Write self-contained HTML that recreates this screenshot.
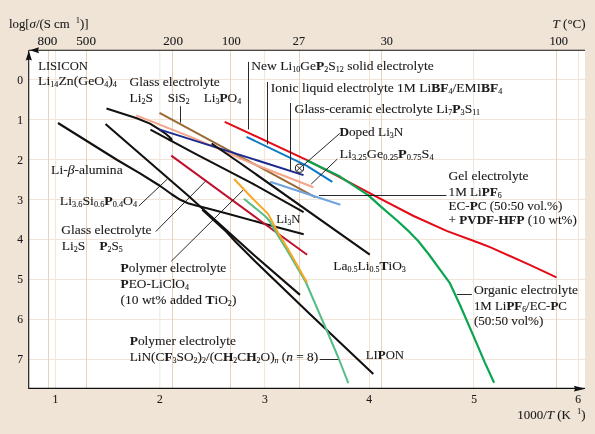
<!DOCTYPE html>
<html lang="en"><head><meta charset="utf-8"><title>Ionic conductivity of lithium electrolytes</title>
<style>html,body{margin:0;padding:0;background:#f0e4d7}svg{display:block}text{font-family:"Liberation Serif",serif;font-size:13px;fill:#1a1a1a;stroke:#1a1a1a;stroke-width:0.1px}.n{font-size:13.5px}.s{font-size:7.8px}.i{font-style:italic}.b{font-weight:bold}</style>
</head><body>
<svg width="595" height="434" viewBox="0 0 595 434">
<rect x="0" y="0" width="595" height="434" fill="#f0e4d7"/>
<rect x="28.7" y="50.3" width="556.3" height="338.1" fill="#fff"/>
<g stroke="#f2e5d8" stroke-width="1" fill="none">
<line x1="55.5" y1="50.3" x2="55.5" y2="388.4"/>
<line x1="159.8" y1="50.3" x2="159.8" y2="388.4"/>
<line x1="264.6" y1="50.3" x2="264.6" y2="388.4"/>
<line x1="369.5" y1="50.3" x2="369.5" y2="388.4"/>
<line x1="473.6" y1="50.3" x2="473.6" y2="388.4"/>
<line x1="578.5" y1="50.3" x2="578.5" y2="388.4"/>
<line x1="28.7" y1="79.5" x2="585.0" y2="79.5"/>
<line x1="28.7" y1="119.5" x2="585.0" y2="119.5"/>
<line x1="28.7" y1="159.5" x2="585.0" y2="159.5"/>
<line x1="28.7" y1="199.5" x2="585.0" y2="199.5"/>
<line x1="28.7" y1="239.5" x2="585.0" y2="239.5"/>
<line x1="28.7" y1="279.5" x2="585.0" y2="279.5"/>
<line x1="28.7" y1="319.5" x2="585.0" y2="319.5"/>
<line x1="28.7" y1="359.5" x2="585.0" y2="359.5"/>
</g>
<g stroke="#e7d2bc" stroke-width="1" fill="none">
<line x1="48.5" y1="50.3" x2="48.5" y2="388.4"/>
<line x1="86.5" y1="50.3" x2="86.5" y2="388.4"/>
<line x1="172.5" y1="50.3" x2="172.5" y2="388.4"/>
<line x1="230.5" y1="50.3" x2="230.5" y2="388.4"/>
<line x1="299.5" y1="50.3" x2="299.5" y2="388.4"/>
<line x1="381.5" y1="50.3" x2="381.5" y2="388.4"/>
<line x1="556.5" y1="50.3" x2="556.5" y2="388.4"/>
</g>
<polyline points="106.5,108.6 136.8,118.3 150.0,123.6 160.0,129.8 166.0,134.0 170.8,138.3 171.6,139.8 170.4,140.4 168.6,139.2" fill="none" stroke="#111" stroke-width="2.10" stroke-linejoin="round" />
<polyline points="150.4,129.6 195.0,153.7 251.7,183.1 303.6,212.2" fill="none" stroke="#111" stroke-width="2.10" stroke-linejoin="round" />
<polyline points="58.0,123.0 117.2,160.0 140.0,173.4 160.2,186.0 172.0,194.5 180.3,199.8 188.0,203.3 196.0,205.6 206.0,208.0 225.0,213.1 265.0,223.9 303.7,234.3" fill="none" stroke="#111" stroke-width="2.10" stroke-linejoin="round" />
<polyline points="105.5,124.0 187.7,195.3 255.0,256.0 300.0,294.9" fill="none" stroke="#111" stroke-width="2.10" stroke-linejoin="round" />
<polyline points="202.3,209.8 226.6,232.0 236.0,242.2 255.0,261.2 308.8,312.9 373.3,374.0" fill="none" stroke="#111" stroke-width="2.10" stroke-linejoin="round" />
<polyline points="159.5,112.8 315.6,197.3" fill="none" stroke="#9a6a35" stroke-width="2.00" stroke-linejoin="round" />
<polyline points="136.2,115.4 195.0,138.6 250.0,162.6 313.4,187.3" fill="none" stroke="#f4a58a" stroke-width="2.00" stroke-linejoin="round" />
<polyline points="270.2,181.8 340.4,204.8" fill="none" stroke="#6fa3dd" stroke-width="2.00" stroke-linejoin="round" />
<polyline points="159.2,129.4 303.5,175.1" fill="none" stroke="#1b2a8c" stroke-width="2.00" stroke-linejoin="round" />
<polyline points="211.6,143.5 240.0,163.0 369.8,254.7" fill="none" stroke="#111" stroke-width="2.10" stroke-linejoin="round" />
<polyline points="171.3,155.6 260.0,220.5 307.1,254.7" fill="none" stroke="#c0102f" stroke-width="2.00" stroke-linejoin="round" />
<polyline points="243.9,198.7 256.8,209.3 265.0,216.0 269.5,221.0 277.3,234.5 286.3,249.0 306.0,282.5 317.0,308.0 327.0,331.0 338.5,358.0 348.3,383.2" fill="none" stroke="#55bd85" stroke-width="2.00" stroke-linejoin="round" />
<polyline points="234.1,179.0 250.7,196.5 268.1,213.9 278.5,233.5 287.4,248.0 307.1,282.7" fill="none" stroke="#f7a823" stroke-width="2.00" stroke-linejoin="round" />
<polyline points="246.5,136.9 306.5,165.7 332.3,181.8" fill="none" stroke="#0b78c6" stroke-width="2.00" stroke-linejoin="round" />
<polyline points="224.7,121.9 306.5,159.8 340.0,177.4 376.3,196.6 413.6,216.0 447.2,231.1 480.0,243.2 490.0,247.1 530.3,265.2 556.5,277.3" fill="none" stroke="#e60a16" stroke-width="2.00" stroke-linejoin="round" />
<polyline points="306.5,160.2 340.0,176.6 368.2,195.1 380.0,205.9 397.6,221.0 408.0,230.6 418.2,241.0 429.3,255.0 440.0,269.7 449.9,283.2 460.0,305.0 473.1,335.1 485.1,363.1 494.1,382.8" fill="none" stroke="#0aa551" stroke-width="2.20" stroke-linejoin="round" />
<polyline points="180.5,106.2 180.5,122.7" fill="none" stroke="#111" stroke-width="0.90" stroke-linejoin="round" />
<polyline points="248.5,61.9 248.5,129.4" fill="none" stroke="#111" stroke-width="0.90" stroke-linejoin="round" />
<polyline points="267.5,82.0 267.5,144.5" fill="none" stroke="#111" stroke-width="0.90" stroke-linejoin="round" />
<polyline points="290.5,103.0 290.5,170.6" fill="none" stroke="#111" stroke-width="0.90" stroke-linejoin="round" />
<polyline points="339.8,133.4 302.5,166.0" fill="none" stroke="#111" stroke-width="0.90" stroke-linejoin="round" />
<polyline points="337.3,159.0 311.2,184.1" fill="none" stroke="#111" stroke-width="0.90" stroke-linejoin="round" />
<polyline points="319.0,195.5 446.5,195.5" fill="none" stroke="#111" stroke-width="0.90" stroke-linejoin="round" />
<polyline points="138.8,206.0 167.2,179.2" fill="none" stroke="#111" stroke-width="0.90" stroke-linejoin="round" />
<polyline points="155.7,231.6 205.5,181.2" fill="none" stroke="#111" stroke-width="0.90" stroke-linejoin="round" />
<polyline points="171.3,261.2 243.0,190.2" fill="none" stroke="#111" stroke-width="0.90" stroke-linejoin="round" />
<polyline points="456.9,294.5 471.8,294.5" fill="none" stroke="#111" stroke-width="0.90" stroke-linejoin="round" />
<polyline points="319.8,359.5 338.2,359.5" fill="none" stroke="#111" stroke-width="0.90" stroke-linejoin="round" />
<circle cx="299.5" cy="168.2" r="4.1" fill="#fff" stroke="#111" stroke-width="1"/>
<path d="M296.7,165.4L302.3,171M302.3,165.4L296.7,171" stroke="#111" stroke-width="0.9" fill="none"/>
<path d="M28.7,50.3 L28.7,388.4 L585.0,388.4" fill="none" stroke="#111" stroke-width="1.1"/>
<path d="M28.7,50.3 L585.0,50.3" fill="none" stroke="#111" stroke-width="1.1"/>
<path d="M585.3,388.7 L574,385.8 L575,388.7 L574,391.6Z" fill="#111"/>
<path d="M29.8,50.2 L39,47.2 L38,50.2 L39,53.2Z" fill="#111"/>
<path d="M28.8,50.8 L25.7,60.6 L28.8,59.6 L31.9,60.6Z" fill="#111"/>
<text x="9.0" y="27.6" textLength="79.5" lengthAdjust="spacingAndGlyphs">log[<tspan class="i">&#963;</tspan>/(S cm&#160;&#160;<tspan class="s" dy="-5">1</tspan><tspan dy="5">)]</tspan></text>
<text x="552.6" y="27.6" textLength="33.0" lengthAdjust="spacingAndGlyphs"><tspan class="i">T</tspan> (&#176;C)</text>
<text x="517.3" y="418.6" textLength="68.2" lengthAdjust="spacingAndGlyphs">1000/<tspan class="i">T</tspan> (K&#160;&#160;<tspan class="s" dy="-5">1</tspan><tspan dy="5">)</tspan></text>
<text x="37.6" y="44.9" textLength="19.7" lengthAdjust="spacingAndGlyphs" class="n">800</text>
<text x="76.3" y="44.9" textLength="19.7" lengthAdjust="spacingAndGlyphs" class="n">500</text>
<text x="163.3" y="44.9" textLength="19.7" lengthAdjust="spacingAndGlyphs" class="n">200</text>
<text x="222.0" y="44.9" textLength="18.6" lengthAdjust="spacingAndGlyphs" class="n">100</text>
<text x="292.8" y="44.9" textLength="12.2" lengthAdjust="spacingAndGlyphs" class="n">27</text>
<text x="380.7" y="44.9" textLength="12.2" lengthAdjust="spacingAndGlyphs" class="n">30</text>
<text x="549.4" y="44.9" textLength="18.6" lengthAdjust="spacingAndGlyphs" class="n">100</text>
<text x="52.5" y="402.8" textLength="5.8" lengthAdjust="spacingAndGlyphs" class="n">1</text>
<text x="157.0" y="402.8" textLength="5.8" lengthAdjust="spacingAndGlyphs" class="n">2</text>
<text x="261.9" y="402.8" textLength="5.8" lengthAdjust="spacingAndGlyphs" class="n">3</text>
<text x="366.2" y="402.8" textLength="5.8" lengthAdjust="spacingAndGlyphs" class="n">4</text>
<text x="471.3" y="402.8" textLength="5.8" lengthAdjust="spacingAndGlyphs" class="n">5</text>
<text x="575.3" y="402.8" textLength="5.8" lengthAdjust="spacingAndGlyphs" class="n">6</text>
<text x="17.2" y="83.9" textLength="5.8" lengthAdjust="spacingAndGlyphs" class="n">0</text>
<text x="17.2" y="123.8" textLength="5.8" lengthAdjust="spacingAndGlyphs" class="n">1</text>
<text x="17.2" y="163.6" textLength="5.8" lengthAdjust="spacingAndGlyphs" class="n">2</text>
<text x="17.2" y="203.5" textLength="5.8" lengthAdjust="spacingAndGlyphs" class="n">3</text>
<text x="17.2" y="243.3" textLength="5.8" lengthAdjust="spacingAndGlyphs" class="n">4</text>
<text x="17.2" y="283.2" textLength="5.8" lengthAdjust="spacingAndGlyphs" class="n">5</text>
<text x="17.2" y="323.1" textLength="5.8" lengthAdjust="spacingAndGlyphs" class="n">6</text>
<text x="17.2" y="362.9" textLength="5.8" lengthAdjust="spacingAndGlyphs" class="n">7</text>
<text x="38.2" y="70.0" textLength="49.8" lengthAdjust="spacingAndGlyphs">LISICON</text>
<text x="38.0" y="84.9" textLength="79.0" lengthAdjust="spacingAndGlyphs">Li<tspan class="s" dy="2.1">14</tspan><tspan dy="-2.1">Zn(GeO</tspan><tspan class="s" dy="2.1">4</tspan><tspan dy="-2.1">)</tspan><tspan class="s" dy="2.1">4</tspan></text>
<text x="129.5" y="86.0" textLength="90.3" lengthAdjust="spacingAndGlyphs">Glass electrolyte</text>
<text x="129.5" y="102.2" textLength="23.4" lengthAdjust="spacingAndGlyphs">Li<tspan class="s" dy="2.1">2</tspan><tspan dy="-2.1">S</tspan></text>
<text x="167.8" y="102.2" textLength="21.8" lengthAdjust="spacingAndGlyphs">SiS<tspan class="s" dy="2.1">2</tspan></text>
<text x="203.7" y="102.2" textLength="37.5" lengthAdjust="spacingAndGlyphs">Li<tspan class="s" dy="2.1">3</tspan><tspan dy="-2.1"><tspan class="b">P</tspan>O</tspan><tspan class="s" dy="2.1">4</tspan></text>
<text x="251.3" y="69.9" textLength="182.5" lengthAdjust="spacingAndGlyphs">New Li<tspan class="s" dy="2.1">10</tspan><tspan dy="-2.1">Ge<tspan class="b">P</tspan></tspan><tspan class="s" dy="2.1">2</tspan><tspan dy="-2.1">S</tspan><tspan class="s" dy="2.1">12</tspan><tspan dy="-2.1"> solid electrolyte</tspan></text>
<text x="270.8" y="91.9" textLength="231.5" lengthAdjust="spacingAndGlyphs">Ionic liquid electrolyte 1M Li<tspan class="b">BF</tspan><tspan class="s" dy="2.1">4</tspan><tspan dy="-2.1">/EMI<tspan class="b">BF</tspan></tspan><tspan class="s" dy="2.1">4</tspan></text>
<text x="294.6" y="113.1" textLength="185.5" lengthAdjust="spacingAndGlyphs">Glass-ceramic electrolyte Li<tspan class="s" dy="2.1">7</tspan><tspan dy="-2.1"><tspan class="b">P</tspan></tspan><tspan class="s" dy="2.1">3</tspan><tspan dy="-2.1">S</tspan><tspan class="s" dy="2.1">11</tspan></text>
<text x="339.4" y="136.0" textLength="64.0" lengthAdjust="spacingAndGlyphs"><tspan class="b">D</tspan>oped Li<tspan class="s" dy="2.1">3</tspan><tspan dy="-2.1">N</tspan></text>
<text x="339.4" y="158.2" textLength="94.3" lengthAdjust="spacingAndGlyphs">Li<tspan class="s" dy="2.1">3.25</tspan><tspan dy="-2.1">Ge</tspan><tspan class="s" dy="2.1">0.25</tspan><tspan dy="-2.1"><tspan class="b">P</tspan></tspan><tspan class="s" dy="2.1">0.75</tspan><tspan dy="-2.1">S</tspan><tspan class="s" dy="2.1">4</tspan></text>
<text x="51.1" y="174.3" textLength="71.6" lengthAdjust="spacingAndGlyphs">Li-<tspan class="i">&#946;</tspan>-alumina</text>
<text x="59.8" y="205.0" textLength="77.4" lengthAdjust="spacingAndGlyphs">Li<tspan class="s" dy="2.1">3.6</tspan><tspan dy="-2.1">Si</tspan><tspan class="s" dy="2.1">0.6</tspan><tspan dy="-2.1"><tspan class="b">P</tspan></tspan><tspan class="s" dy="2.1">0.4</tspan><tspan dy="-2.1">O</tspan><tspan class="s" dy="2.1">4</tspan></text>
<text x="61.2" y="233.9" textLength="90.3" lengthAdjust="spacingAndGlyphs">Glass electrolyte</text>
<text x="61.8" y="250.0" textLength="23.6" lengthAdjust="spacingAndGlyphs">Li<tspan class="s" dy="2.1">2</tspan><tspan dy="-2.1">S</tspan></text>
<text x="99.5" y="250.0" textLength="23.2" lengthAdjust="spacingAndGlyphs"><tspan class="b">P</tspan><tspan class="s" dy="2.1">2</tspan><tspan dy="-2.1">S</tspan><tspan class="s" dy="2.1">5</tspan></text>
<text x="120.6" y="272.3" textLength="105.7" lengthAdjust="spacingAndGlyphs"><tspan class="b">P</tspan>olymer electrolyte</text>
<text x="120.6" y="288.0" textLength="68.4" lengthAdjust="spacingAndGlyphs"><tspan class="b">P</tspan>EO-LiClO<tspan class="s" dy="2.1">4</tspan></text>
<text x="120.6" y="304.2" textLength="115.8" lengthAdjust="spacingAndGlyphs">(10 wt% added <tspan class="b">T</tspan>iO<tspan class="s" dy="2.1">2</tspan><tspan dy="-2.1">)</tspan></text>
<text x="129.7" y="344.9" textLength="106.2" lengthAdjust="spacingAndGlyphs"><tspan class="b">P</tspan>olymer electrolyte</text>
<text x="129.7" y="360.8" textLength="188.5" lengthAdjust="spacingAndGlyphs">LiN(C<tspan class="b">F</tspan><tspan class="s" dy="2.1">3</tspan><tspan dy="-2.1">SO</tspan><tspan class="s" dy="2.1">2</tspan><tspan dy="-2.1">)</tspan><tspan class="s" dy="2.1">2</tspan><tspan dy="-2.1">/(C<tspan class="b">H</tspan></tspan><tspan class="s" dy="2.1">2</tspan><tspan dy="-2.1">C<tspan class="b">H</tspan></tspan><tspan class="s" dy="2.1">2</tspan><tspan dy="-2.1">O)</tspan><tspan class="s i" dy="2.1">n</tspan><tspan dy="-2.1"> (<tspan class="i">n</tspan> = 8)</tspan></text>
<text x="276.3" y="223.1" textLength="24.2" lengthAdjust="spacingAndGlyphs">Li<tspan class="s" dy="2.1">3</tspan><tspan dy="-2.1">N</tspan></text>
<text x="333.3" y="270.3" textLength="72.6" lengthAdjust="spacingAndGlyphs">La<tspan class="s" dy="2.1">0.5</tspan><tspan dy="-2.1">Li</tspan><tspan class="s" dy="2.1">0.5</tspan><tspan dy="-2.1"><tspan class="b">T</tspan>iO</tspan><tspan class="s" dy="2.1">3</tspan></text>
<text x="365.8" y="358.8" textLength="38.3" lengthAdjust="spacingAndGlyphs">LI<tspan class="b">P</tspan>ON</text>
<text x="448.6" y="180.2" textLength="80.0" lengthAdjust="spacingAndGlyphs">Gel electrolyte</text>
<text x="448.6" y="196.3" textLength="53.1" lengthAdjust="spacingAndGlyphs">1M Li<tspan class="b">PF</tspan><tspan class="s" dy="2.1">6</tspan></text>
<text x="448.6" y="210.1" textLength="113.8" lengthAdjust="spacingAndGlyphs">EC-<tspan class="b">P</tspan>C (50:50 vol.%)</text>
<text x="448.6" y="223.9" textLength="128.2" lengthAdjust="spacingAndGlyphs">+ <tspan class="b">PVDF</tspan>-<tspan class="b">HFP</tspan> (10 wt%)</text>
<text x="473.9" y="294.1" textLength="104.1" lengthAdjust="spacingAndGlyphs">Organic electrolyte</text>
<text x="473.9" y="309.7" textLength="93.0" lengthAdjust="spacingAndGlyphs">1M Li<tspan class="b">PF</tspan><tspan class="s" dy="2.1">6</tspan><tspan dy="-2.1">/EC-<tspan class="b">P</tspan>C</tspan></text>
<text x="473.9" y="325.0" textLength="69.5" lengthAdjust="spacingAndGlyphs">(50:50 vol%)</text>
</svg>
</body></html>
